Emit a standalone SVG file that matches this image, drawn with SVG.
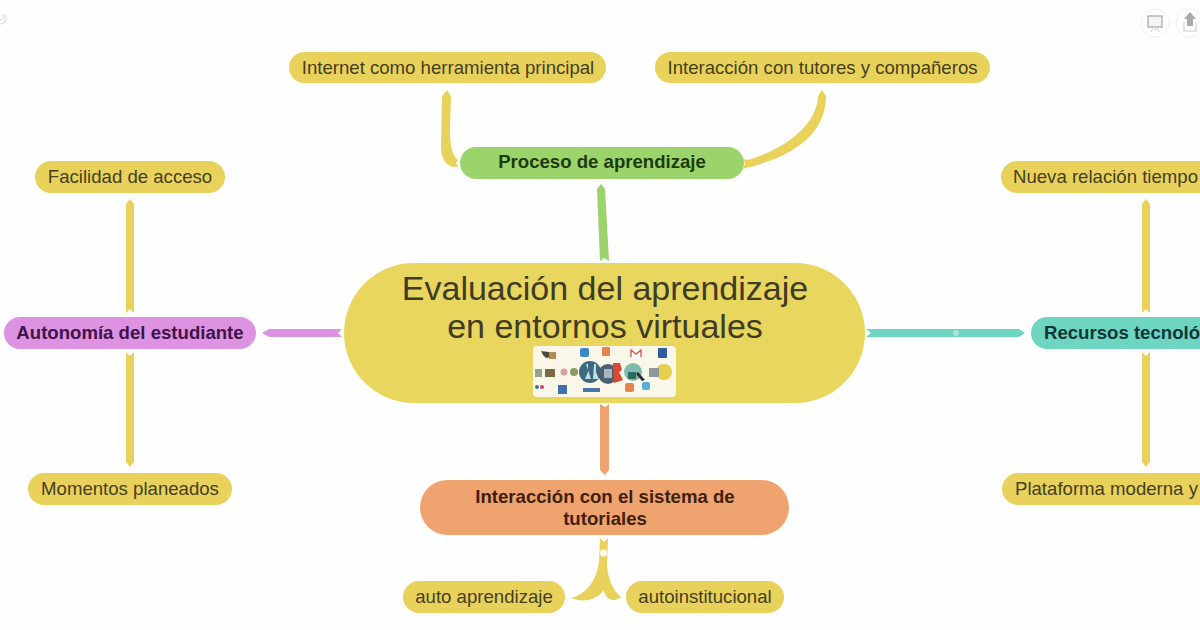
<svg xmlns="http://www.w3.org/2000/svg" width="1200" height="630" viewBox="0 0 1200 630">
<defs><filter id="soft" x="-5%" y="-5%" width="110%" height="110%"><feGaussianBlur stdDeviation="0.6"/></filter></defs>
<style>
text{font-family:"Liberation Sans",Arial,sans-serif;text-anchor:middle}
.leaf{fill:#e9d25c}
.lt{font-size:18.6px;fill:#45401c}
.bt{font-size:18.6px;font-weight:700}
.ct{font-size:34px;fill:#3e3c24}
.y{fill:#e9d65e}
.s{text-anchor:start}
</style>
<rect width="1200" height="630" fill="#fefefe"/>
<g id="connectors">
<path class="leaf" d="M447 90L451 96L450 128C450 146 452 155 458 160L456 163L458 167C447 168 441 160 441 146L442 96Z"/>
<path class="leaf" d="M822 90L826 96C826 130 800 155 746 168L743 169L745 163L743 159L748 160C785 149 817 125 818 96Z"/>
<path d="M601 184L605 189L609 261L604 258L600 261L597 189Z" fill="#9bd46a"/>
<path d="M130 199L134 204V313L130 309L126 313V204Z" class="leaf"/>
<path d="M126 352L130 356L134 352V462L130 467L126 462Z" class="leaf"/>
<path d="M1146 199L1150 204V313L1146 309L1142 313V204Z" class="leaf"/>
<path d="M1142 352L1146 356L1150 352V462L1146 467L1142 462Z" class="leaf"/>
<path d="M262 333L269 329H342L338 333L342 337H269Z" fill="#dd92e2"/>
<path d="M866 329H1019L1025 333L1019 337H866L871 333Z" fill="#6ed5c0"/>
<circle cx="956" cy="333" r="3" fill="#a8e4d8"/>
<path d="M600 404L605 407L609 404V470L605 475L600 470Z" fill="#efa470"/>
<path class="leaf" d="M600 538L604 542L608 538L607 565C608 580 613 590 621 597C614 603 606 600 603.500 590C600 598 585 604 571 598C586 594 596 582 599 562Z"/>
<circle cx="603.500" cy="553" r="3.500" fill="#fff"/>
</g>
<g id="center">
<rect x="344" y="263" width="521" height="140" rx="70" class="y"/>
<text class="ct" x="605" y="300">Evaluación del aprendizaje</text>
<text class="ct" x="605" y="338">en entornos virtuales</text>
<g id="picture">
<rect x="533" y="346" width="143" height="51" rx="4" fill="#faf7ea"/>
<g filter="url(#soft)">
<circle cx="664" cy="372" r="8" fill="#e6cf4d"/>
<circle cx="633" cy="372" r="9" fill="#7fbcae"/>
<path d="M628 372h8v7h-8z" fill="#2f6a60"/>
<rect x="649" y="368" width="10" height="9" fill="#8e979b"/>
<path d="M638 372l7 8-3 1-6-7z" fill="#2b2f33"/>
<circle cx="590" cy="372" r="11" fill="#3d6a80"/>
<path d="M586 364h2v8l-3 7h6zM594 364h2v8l3 7h-6z" fill="#bcdfe6"/>
<circle cx="608" cy="374" r="10" fill="#4b5f70"/>
<rect x="604" y="369" width="8" height="9" fill="#a9b5bd"/>
<path d="M613 363h7l2 7-3 2 4 8-9 3z" fill="#d94a32"/>
<rect x="580" y="348" width="9" height="9" rx="2" fill="#3a88c4"/>
<rect x="602" y="347" width="8" height="9" rx="1" fill="#e5834f"/>
<path d="M631 350h10v7h-10z" fill="#fff"/><path d="M631 357v-7l5 4 5-4v7" fill="none" stroke="#d85a50" stroke-width="1.400"/>
<rect x="658" y="348" width="9" height="10" rx="1" fill="#2d5a9e"/>
<rect x="558" y="385" width="9" height="9" fill="#3f6fb0"/>
<rect x="625" y="383" width="9" height="9" rx="2" fill="#e5834f"/>
<rect x="642" y="382" width="8" height="8" rx="2" fill="#56afd4"/>
<rect x="535" y="369" width="7" height="8" fill="#8fa58c"/>
<rect x="545" y="369" width="10" height="8" fill="#7d6a45"/>
<circle cx="564" cy="372" r="3.500" fill="#d9a0a0"/>
<circle cx="574" cy="372" r="4" fill="#8a9a60"/>
<path d="M541 351l8 1 2 5-5 1-3-3z" fill="#4a4a40"/>
<rect x="549" y="352" width="7" height="7" fill="#b98a48"/>
<rect x="583" y="388" width="17" height="4" fill="#4a74ad"/>
<circle cx="537" cy="387" r="2" fill="#3f6fb0"/>
<circle cx="542" cy="387" r="2" fill="#d9426e"/>
</g>
</g>
</g>
<g id="proceso"><rect x="460" y="147" width="284" height="32" rx="16" fill="#9bd46a"/><text class="bt" x="602" y="168" fill="#1e3a12">Proceso de aprendizaje</text></g>
<g id="internet"><rect x="289" y="52" width="317" height="31" rx="15.500" class="leaf"/><text class="lt" x="448" y="74">Internet como herramienta principal</text></g>
<g id="interaccion-tutores"><rect x="655" y="52" width="335" height="31" rx="15.500" class="leaf"/><text class="lt" x="822.500" y="74">Interacción con tutores y compañeros</text></g>
<g id="facilidad"><rect x="35" y="161" width="190" height="32" rx="16" class="leaf"/><text class="lt" x="130" y="183">Facilidad de acceso</text></g>
<g id="autonomia"><rect x="4" y="317" width="252" height="32" rx="16" fill="#dd92e2"/><text class="bt" x="130" y="339" fill="#3f1448">Autonomía del estudiante</text></g>
<g id="momentos"><rect x="28" y="473" width="204" height="32" rx="16" class="leaf"/><text class="lt" x="130" y="495">Momentos planeados</text></g>
<g id="nueva"><rect x="1001" y="161" width="230" height="32" rx="16" class="leaf"/><text class="lt s" x="1013" y="183">Nueva relación tiempo</text></g>
<g id="recursos"><rect x="1031" y="317" width="220" height="32" rx="16" fill="#6ed5c0"/><text class="bt s" x="1044" y="339" fill="#10363a">Recursos tecnoló</text></g>
<g id="plataforma"><rect x="1002" y="473" width="240" height="32" rx="16" class="leaf"/><text class="lt s" x="1015" y="495">Plataforma moderna y</text></g>
<g id="interaccion-sistema"><rect x="420" y="480" width="369" height="55" rx="27.500" fill="#efa470"/><text class="bt" x="605" y="503" fill="#40200f">Interacción con el sistema de</text><text class="bt" x="605" y="525" fill="#40200f">tutoriales</text></g>
<g id="auto"><rect x="403" y="581" width="162" height="32" rx="16" class="leaf"/><text class="lt" x="484" y="603">auto aprendizaje</text></g>
<g id="autoinst"><rect x="626" y="581" width="158" height="32" rx="16" class="leaf"/><text class="lt" x="705" y="603">autoinstitucional</text></g>
<g id="toolbar">
<circle cx="1155" cy="23" r="14" fill="#fff" stroke="#f1f1f1"/>
<rect x="1148" y="16" width="14" height="11" fill="#f4f4f4" stroke="#b5b5b5" stroke-width="1.500"/>
<path d="M1155 27V31M1151 32L1153 28M1159 32L1157 28" stroke="#cfcfcf" fill="none"/>
<circle cx="1190" cy="23" r="14" fill="#fff" stroke="#f1f1f1"/>
<path d="M1190 12L1196 19H1193V26H1187V19H1184Z" fill="#a9a9a9"/>
<path d="M1184 22V31H1196V22" fill="none" stroke="#dcdcdc" stroke-width="1.500"/>
<path d="M0 20C4 20 5 16 3 14M0 24C5 24 7 19 6 15" fill="none" stroke="#dddddd" stroke-width="1.200"/>
</g>
</svg>
